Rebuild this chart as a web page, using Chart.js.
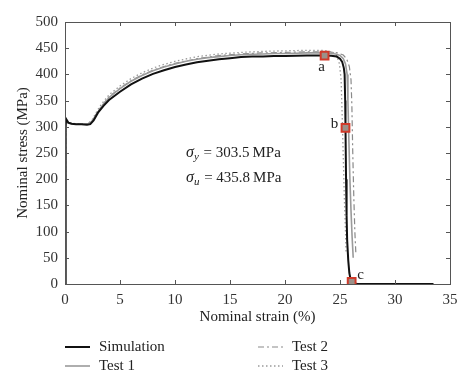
<!DOCTYPE html>
<html>
<head>
<meta charset="utf-8">
<script src="https://cdn.jsdelivr.net/npm/chart.js@4.4.0/dist/chart.umd.min.js"></script>
<style>
  html, body { margin: 0; padding: 0; background: #fff; }
  #wrap { width: 474px; height: 387px; }
</style>
</head>
<body>
<div id="wrap"><canvas id="stress-chart" width="474" height="387"></canvas></div>
<script>
// Simulation curve (strain %, stress MPa)
var simX = [0, 0.05, 0.1, 0.3, 0.6, 1.0, 1.5, 2.0, 2.3, 2.6, 3.0, 3.5, 4, 5, 6, 7, 8, 9, 10, 11, 12, 13, 14, 15, 16, 17, 18, 19, 20, 21, 22, 23, 23.6, 24.2, 24.7, 25.0, 25.2, 25.35, 25.42, 25.47, 25.5, 25.55, 25.6, 25.65, 25.75, 25.85, 25.95, 26.06, 26.3, 26.6, 33.5];
var simY = [0, 300, 315, 308, 306, 305, 305, 304, 305, 312, 327, 340, 351, 367, 381, 392, 401, 408, 414, 419, 423, 426, 429, 431, 433, 434, 434, 435, 435, 435.5, 436, 436, 436, 435.5, 434, 430, 424, 412, 400, 350, 298, 200, 130, 84, 45, 21, 10, 4, 1, 0, 0];

// Test 1 (solid gray)
var t1X = [0, 0.08, 0.3, 1, 2, 2.4, 2.8, 3.3, 4, 5, 6, 7, 8, 9, 10, 11, 12, 13, 14, 15, 16, 17, 18, 19, 20, 21, 22, 23, 24, 24.6, 25.0, 25.3, 25.5, 25.65, 25.72, 25.8, 25.9, 26.0, 26.1, 26.2];
var t1Y = [0, 312, 307, 305, 305, 309, 322, 338, 356, 373, 387, 398, 407, 414, 420, 425, 429, 432, 434, 436, 437.5, 438.5, 439, 440, 440, 440.5, 441, 441, 440.5, 439, 436, 430, 420, 400, 350, 280, 200, 140, 90, 50];

// Test 2 (dash-dot)
var t2X = [0, 0.08, 0.3, 1, 2, 2.4, 2.8, 3.3, 4, 5, 6, 7, 8, 9, 10, 12, 14, 16, 18, 20, 22, 24, 24.8, 25.3, 25.6, 25.85, 26.0, 26.08, 26.15, 26.25, 26.35, 26.45];
var t2Y = [0, 311, 307, 305, 305, 309, 323, 339, 357, 374, 388, 399, 408, 415, 421, 430, 436, 439, 441, 442, 443, 443, 441, 437, 430, 415, 390, 340, 260, 170, 100, 55];

// Test 3 (dotted)
var t3X = [0, 0.08, 0.3, 1, 2, 2.4, 2.8, 3.3, 4, 5, 6, 7, 8, 9, 10, 12, 14, 16, 18, 20, 22, 23.5, 24.3, 24.7, 24.95, 25.1, 25.2, 25.3, 25.4, 25.5, 25.55];
var t3Y = [0, 312, 308, 306, 306, 311, 326, 343, 361, 378, 392, 403, 412, 419, 425, 434, 439, 442, 444, 445, 446, 446, 443, 436, 420, 390, 320, 240, 160, 100, 60];

// marked points a, b, c
var markLabels = ['a', 'b', 'c'];
var markX = [23.6, 25.5, 26.06];
var markY = [436, 298, 4];

var xTicks = [0, 5, 10, 15, 20, 25, 30, 35];
var yTicks = [0, 50, 100, 150, 200, 250, 300, 350, 400, 450, 500];

var SERIF = '"Liberation Serif", "DejaVu Serif", serif';

function toPoints(xs, ys) {
    var pts = [];
    for (var i = 0; i < xs.length; i++) {
        pts.push({x: xs[i], y: ys[i]});
    }
    return pts;
}

// frame, inner ticks, annotations and legend
var extrasPlugin = {
    id: 'extras',
    afterDraw: function(chart) {
        var ctx = chart.ctx;
        var area = chart.chartArea;
        var xs = chart.scales.x, ys = chart.scales.y;
        ctx.save();
        ctx.strokeStyle = '#555';
        ctx.lineWidth = 1;
        ctx.strokeRect(Math.round(area.left) + 0.5, Math.round(area.top) + 0.5,
            Math.round(area.right - area.left), Math.round(area.bottom - area.top));
        ctx.beginPath();
        xTicks.forEach(function(v) {
            var px = Math.round(xs.getPixelForValue(v)) + 0.5;
            ctx.moveTo(px, area.bottom); ctx.lineTo(px, area.bottom - 4);
            ctx.moveTo(px, area.top); ctx.lineTo(px, area.top + 4);
        });
        yTicks.forEach(function(v) {
            var py = Math.round(ys.getPixelForValue(v)) + 0.5;
            ctx.moveTo(area.left, py); ctx.lineTo(area.left + 4, py);
            ctx.moveTo(area.right, py); ctx.lineTo(area.right - 4, py);
        });
        ctx.stroke();

        // point labels
        ctx.fillStyle = '#222';
        ctx.font = '15px ' + SERIF;
        ctx.textBaseline = 'middle';
        ctx.textAlign = 'center';
        var offs = [[-3, 12], [-11, -4], [9, -7]];
        for (var i = 0; i < markLabels.length; i++) {
            ctx.fillText(markLabels[i],
                xs.getPixelForValue(markX[i]) + offs[i][0],
                ys.getPixelForValue(markY[i]) + offs[i][1]);
        }

        // sigma annotations
        function sigma(sub, rest, x, y) {
            ctx.textAlign = 'left';
            ctx.font = 'italic 16px ' + SERIF;
            ctx.fillText('\u03c3', x, y);
            var w = ctx.measureText('\u03c3').width;
            ctx.font = 'italic 11px ' + SERIF;
            ctx.fillText(sub, x + w, y + 4);
            var w2 = ctx.measureText(sub).width;
            ctx.font = '15px ' + SERIF;
            ctx.fillText(rest, x + w + w2 + 1, y);
        }
        sigma('y', ' = 303.5\u2009MPa', 186, 153);
        sigma('u', ' = 435.8\u2009MPa', 186, 178);

        // legend in two columns
        var items = chart.data.datasets.filter(function(d) { return d.inLegend; });
        var cols = [[65, 99], [258, 292]];
        var rows = [347, 366];
        items.forEach(function(d, k) {
            var c = cols[Math.floor(k / 2)], r = rows[k % 2];
            ctx.beginPath();
            ctx.strokeStyle = d.borderColor;
            ctx.lineWidth = d.borderWidth;
            ctx.setLineDash(d.borderDash || []);
            ctx.moveTo(c[0], r); ctx.lineTo(c[0] + 25, r);
            ctx.stroke();
            ctx.setLineDash([]);
            ctx.fillStyle = '#222';
            ctx.font = '15px ' + SERIF;
            ctx.textAlign = 'left';
            ctx.fillText(d.label, c[1], r);
        });
        ctx.restore();
    }
};

var chart = new Chart(document.getElementById('stress-chart'), {
    type: 'scatter',
    data: {
        datasets: [
            {
                label: 'points',
                data: toPoints(markX, markY),
                pointStyle: 'rect',
                pointRadius: 5.5,
                borderColor: '#d03a2a',
                backgroundColor: '#9b9189',
                borderWidth: 2,
                showLine: false
            },
            {
                label: 'Simulation', inLegend: true,
                data: toPoints(simX, simY),
                showLine: true, pointRadius: 0,
                borderColor: '#111', borderWidth: 2
            },
            {
                label: 'Test 1', inLegend: true,
                data: toPoints(t1X, t1Y),
                showLine: true, pointRadius: 0,
                borderColor: '#9a9a9a', borderWidth: 1.6
            },
            {
                label: 'Test 2', inLegend: true,
                data: toPoints(t2X, t2Y),
                showLine: true, pointRadius: 0,
                borderColor: '#8a8a8a', borderWidth: 1.2,
                borderDash: [6, 3, 2, 3]
            },
            {
                label: 'Test 3', inLegend: true,
                data: toPoints(t3X, t3Y),
                showLine: true, pointRadius: 0,
                borderColor: '#9a9a9a', borderWidth: 1.3,
                borderDash: [1.5, 2.5]
            }
        ]
    },
    options: {
        responsive: false,
        animation: false,
        events: [],
        layout: { padding: { left: 0, top: 22, right: 24, bottom: 55 } },
        plugins: {
            legend: { display: false },
            tooltip: { enabled: false }
        },
        scales: {
            x: {
                type: 'linear', min: 0, max: 35,
                afterFit: function(s) { s.height = 48; },
                afterBuildTicks: function(s) { s.ticks = xTicks.map(function(v) { return {value: v}; }); },
                grid: { display: false, drawTicks: false },
                border: { display: false },
                ticks: { padding: 7, color: '#333', font: { family: SERIF, size: 15 } },
                title: {
                    display: true, text: 'Nominal strain (%)', color: '#222',
                    font: { family: SERIF, size: 15 }, padding: { top: 0, bottom: 6 }
                }
            },
            y: {
                type: 'linear', min: 0, max: 500,
                afterFit: function(s) { s.width = 65; },
                afterBuildTicks: function(s) { s.ticks = yTicks.map(function(v) { return {value: v}; }); },
                grid: { display: false, drawTicks: false },
                border: { display: false },
                ticks: { padding: 7, color: '#333', font: { family: SERIF, size: 15 } },
                title: {
                    display: true, text: 'Nominal stress (MPa)', color: '#222',
                    font: { family: SERIF, size: 15 }, padding: { top: 14, bottom: 0 }
                }
            }
        }
    },
    plugins: [extrasPlugin]
});
</script>
</body>
</html>
